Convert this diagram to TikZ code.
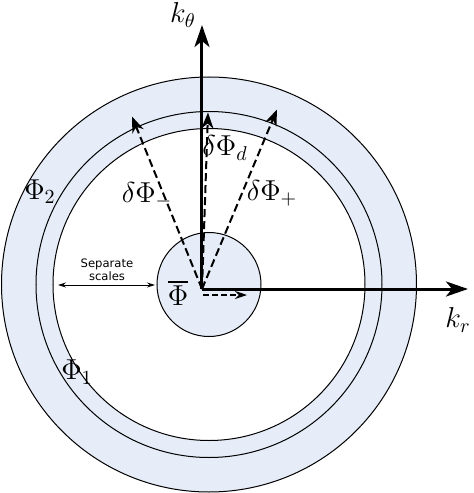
\documentclass[tikz,border=0pt]{standalone}
\usepackage{amsmath}
\usepackage{fontspec}
\usepackage{tikz}
\usetikzlibrary{arrows.meta}
\newfontfamily\labelfont{DejaVu Sans}
\definecolor{ringblue}{RGB}{230,237,248}
\tikzset{axis/.style={line width=1.5pt, -{Stealth[length=11pt,width=7.5pt,inset=3pt]}},
 dasharrow/.style={line width=1pt, dash pattern=on 4pt off 2pt, -{Stealth[length=8pt,width=6pt,inset=2.5pt]}},
 rim/.style={line width=0.5pt},
 lbl/.style={font=\Large},
 }

\begin{document}
\begin{tikzpicture}[x=0.5pt, y=0.5pt]
        \useasboundingbox (-209, -208.5) rectangle (265, 284.5);
        \coordinate (C) at (0, 0);
        \coordinate (O) at (-7, -4.5);
        % shaded bands
        \fill [ringblue, even odd rule] (C) circle (207.5) (C) circle (156);
        \fill [ringblue] (C) circle (52);
        \draw [rim] (C) circle (207.5);
        \draw [rim] (C) circle (173);
        \draw [rim] (C) circle (156);
        \draw [rim] (C) circle (52);
        % axes
        \coordinate (ktip) at (-7, 259.5);
        \coordinate (rtip) at (259, -4.5);
        \draw [axis] (O) -- (ktip);
        \draw [axis] (O) -- (rtip);
        \node (kth) at (-26, 269.5) {\Large $k_\theta$};
        \node (kr) at (249, -35.5) {\Large $k_r$};
        % perturbations
        \coordinate (minus) at (-77, 168);
        \coordinate (dtip) at (-1, 172);
        \coordinate (plus) at (68, 175);
        \coordinate (s0) at (-6, -10.5);
        \coordinate (s1) at (38, -10.5);
        \draw [dasharrow] (O) -- (minus);
        \draw [dasharrow] (O) -- (dtip);
        \draw [dasharrow] (O) -- (plus);
        \draw [line width=0.6pt, dash pattern=on 3pt off 1.5pt, -{Stealth[length=6pt,width=4pt,inset=2pt]}] (s0) -- (s1);
        \node [lbl] (dd) at (16, 136.5) {$\delta\Phi_d$};
        \node [lbl] (dm) at (-62, 89.5) {$\delta\Phi_-$};
        \node [lbl] (dp) at (63, 91.5) {$\delta\Phi_+$};
        \node [lbl] (p2) at (-169, 92.5) {$\Phi_2$};
        \node [lbl] (p1) at (-132, -87.5) {$\Phi_1$};
        \node [lbl] (pbar) at (-31, -8.5) {$\overline{\Phi}$};
        % scale separation
        \node [align=center, font=\labelfont\fontsize{5.8}{6.6}\selectfont] (sep) at (-102, 14.5) {Separate\\scales};
        \coordinate (sl) at (-151, -0.5);
        \coordinate (sr) at (-54, -0.5);
        \draw [line width=0.4pt, {Stealth[length=4pt,width=2.5pt]}-{Stealth[length=4pt,width=2.5pt]}] (sl) -- (sr);
    \end{tikzpicture}
\end{document}
